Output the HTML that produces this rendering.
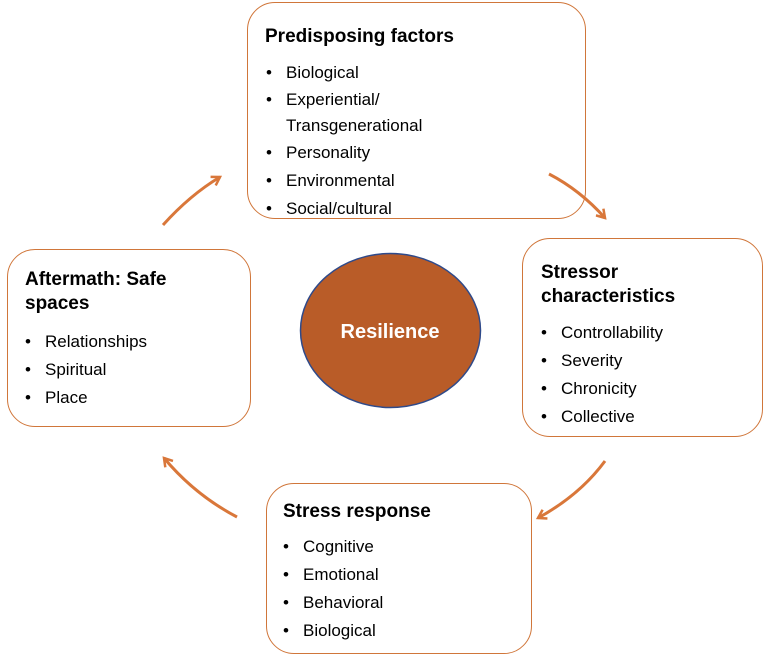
<!DOCTYPE html>
<html><head><style>
body{margin:0;width:765px;height:656px;background:#fff;position:relative;overflow:hidden;font-family:"Liberation Sans",sans-serif;color:#000}
.box{position:absolute;border:1.6px solid #D0763A;border-radius:28px;box-sizing:border-box;background:#fff}
.t{position:absolute;font-weight:bold;font-size:19px;line-height:24px}
.i{position:absolute;font-size:17px;line-height:28px}
.i div{position:relative;padding-left:20px}
.i div:before{content:"•";position:absolute;left:0}
</style></head><body>
<div class="box" style="left:247px;top:2px;width:339px;height:217px"></div>
<div class="t" style="left:265px;top:25px">Predisposing factors</div>
<div class="i" style="left:266px;top:59px"><div>Biological</div><div style="line-height:26px">Experiential/<br>Transgenerational</div><div>Personality</div><div>Environmental</div><div>Social/cultural</div></div>
<div class="box" style="left:522px;top:238px;width:241px;height:199px"></div>
<div class="t" style="left:541px;top:261px">Stressor<br>characteristics</div>
<div class="i" style="left:541px;top:319px"><div>Controllability</div><div>Severity</div><div>Chronicity</div><div>Collective</div></div>
<div class="box" style="left:266px;top:483px;width:266px;height:171px"></div>
<div class="t" style="left:283px;top:500px">Stress response</div>
<div class="i" style="left:283px;top:533px"><div>Cognitive</div><div>Emotional</div><div>Behavioral</div><div>Biological</div></div>
<div class="box" style="left:7px;top:249px;width:244px;height:178px"></div>
<div class="t" style="left:25px;top:268px">Aftermath: Safe<br>spaces</div>
<div class="i" style="left:25px;top:328px"><div>Relationships</div><div>Spiritual</div><div>Place</div></div>
<svg width="765" height="656" style="position:absolute;left:0;top:0">
<defs><marker id="a" markerWidth="12" markerHeight="12" refX="9" refY="6" orient="auto" markerUnits="userSpaceOnUse"><path d="M1,1 L9,6 L1,11" fill="none" stroke="#D9773A" stroke-width="2.5"/></marker></defs>
<g fill="none" stroke="#D9773A" stroke-width="3">
<path d="M549,174 Q580,190 605,218" marker-end="url(#a)"/>
<path d="M605,461 Q580,495 538,518" marker-end="url(#a)"/>
<path d="M237,517 Q195,495 164,458" marker-end="url(#a)"/>
<path d="M163,225 Q190,195 220,177" marker-end="url(#a)"/>
</g>
<ellipse cx="390.5" cy="330.5" rx="90" ry="77" fill="#B95C28" stroke="#2F4A8A" stroke-width="1.5"/>
<text x="390" y="338" text-anchor="middle" fill="#fff" font-weight="bold" font-size="20" font-family="Liberation Sans">Resilience</text>
</svg>
</body></html>
